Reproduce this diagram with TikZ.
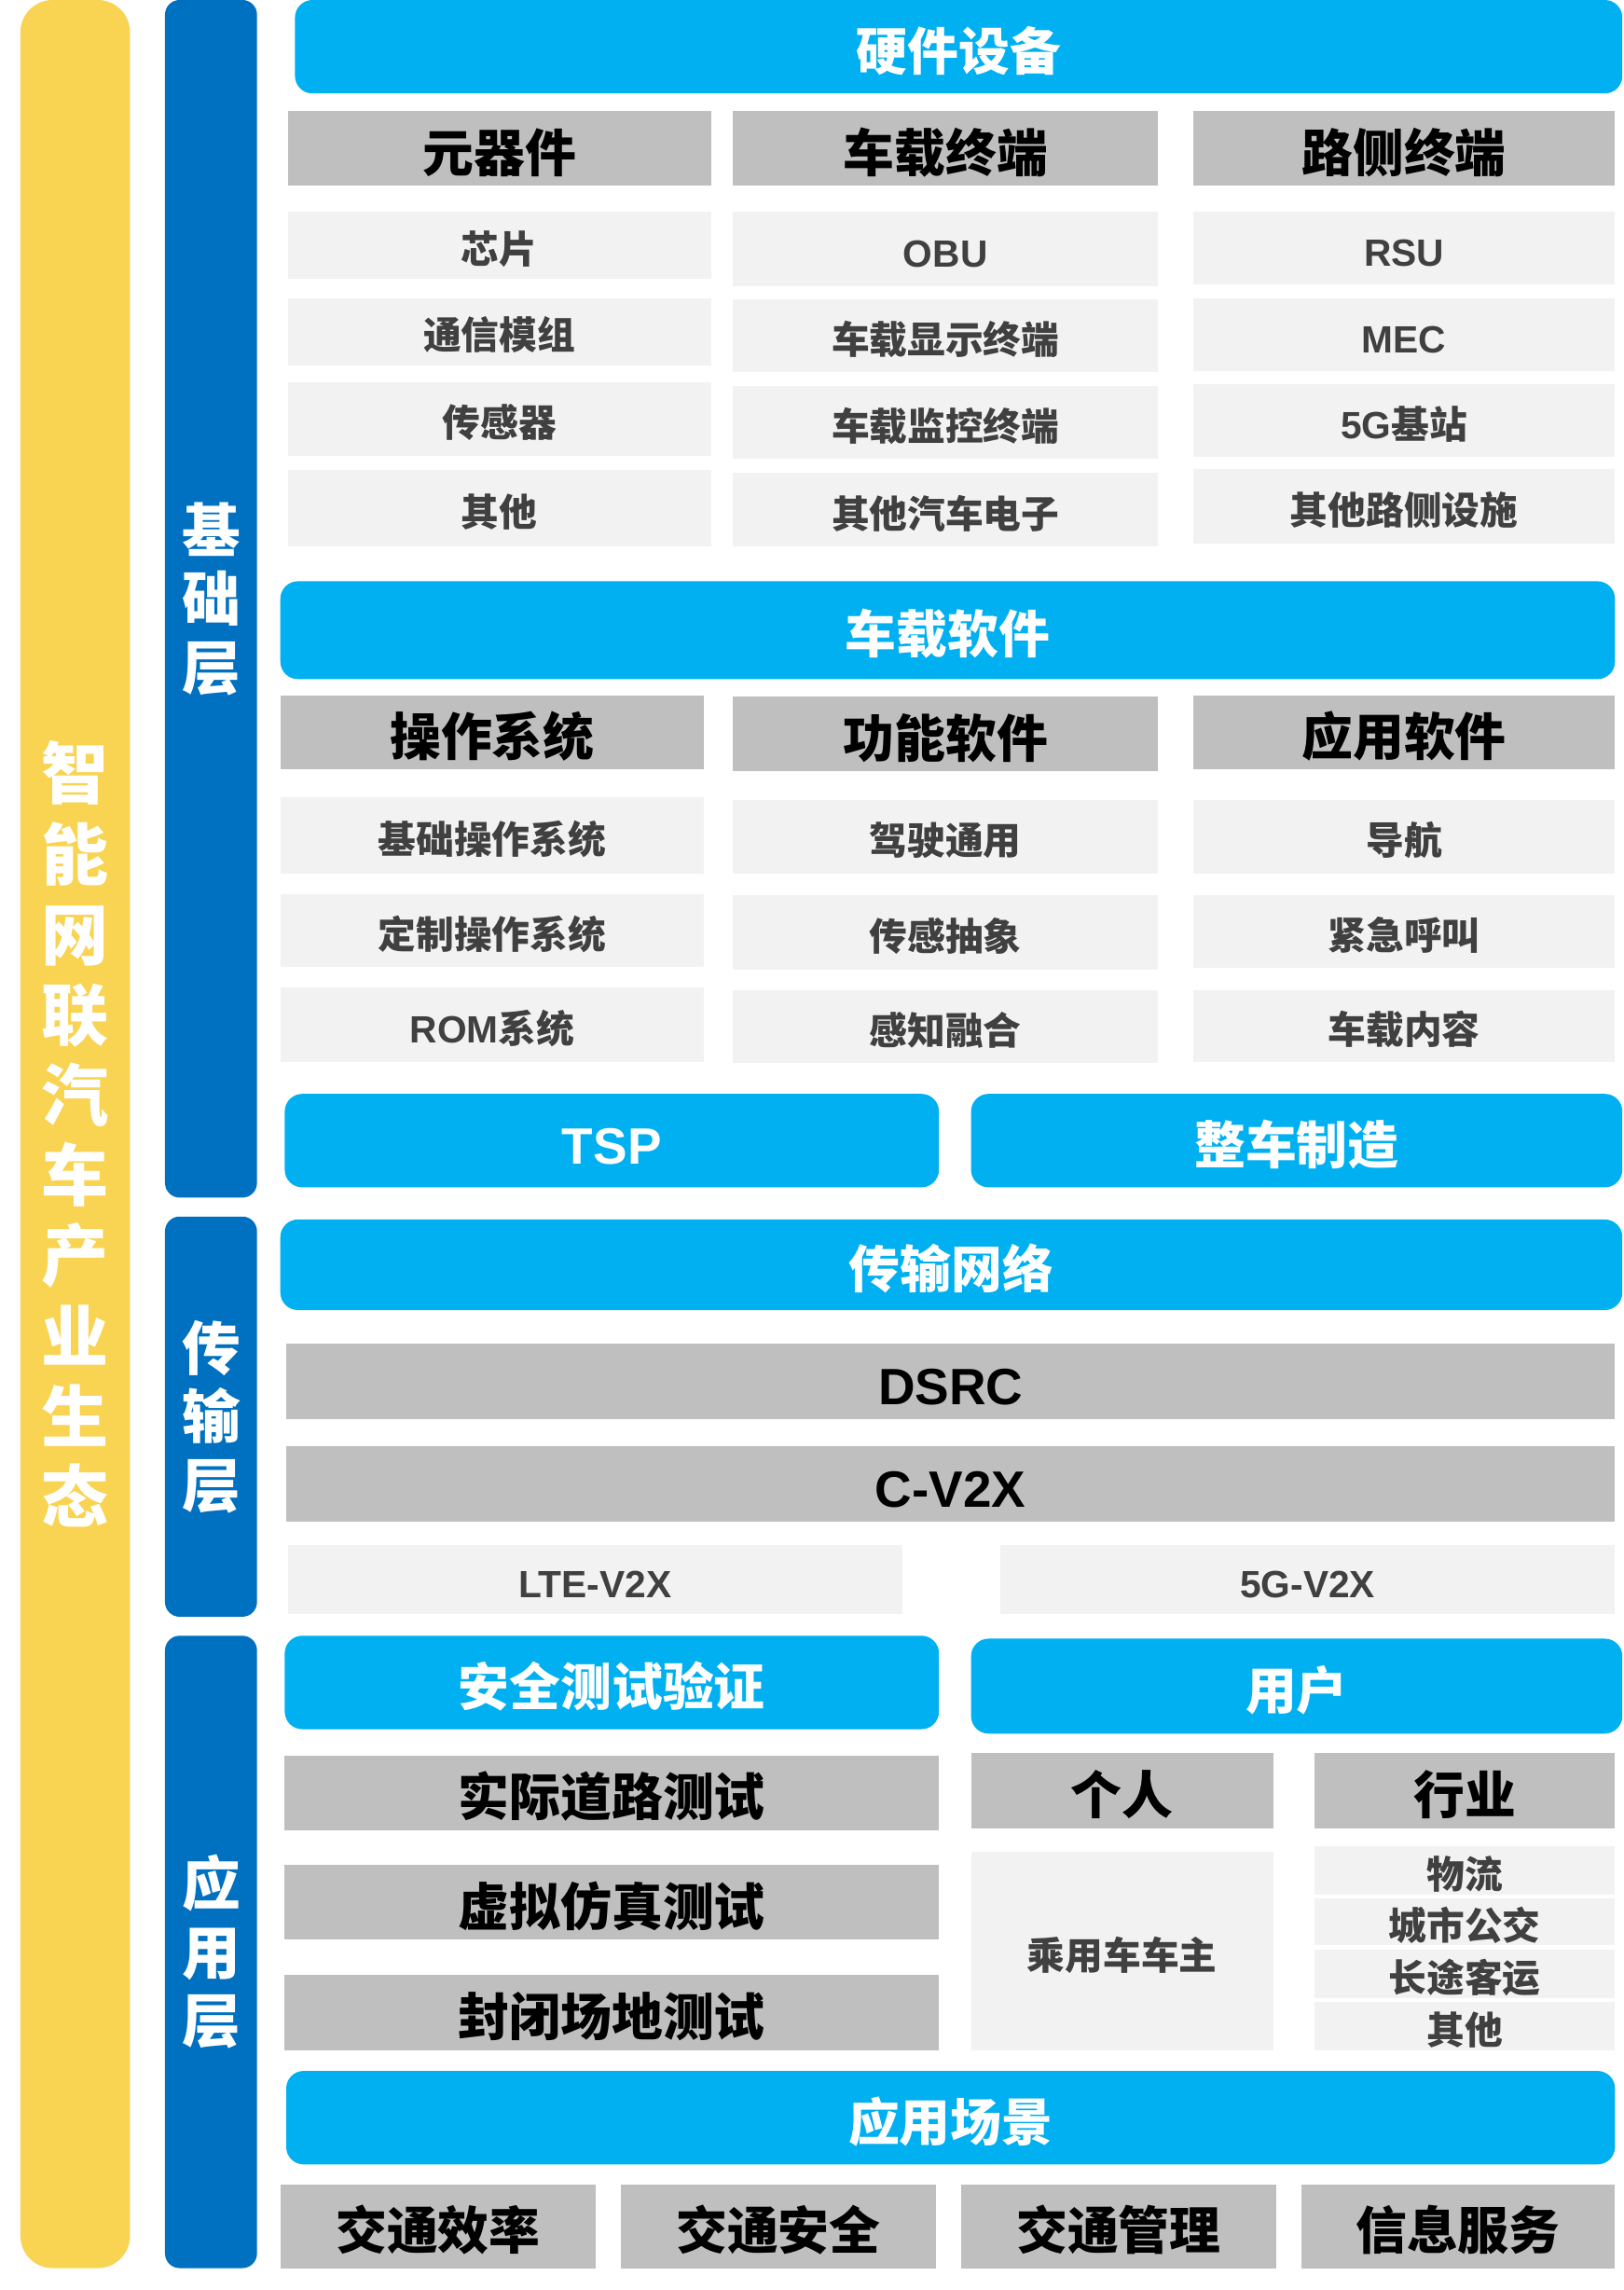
\documentclass[tikz,border=0pt]{standalone}
\usepackage{fontspec}
\setmainfont{Noto Sans CJK SC}
\newfontfamily\latf{Liberation Sans}
\definecolor{cblue}{HTML}{00B0F0}
\definecolor{cdark}{HTML}{0070C0}
\definecolor{cyellow}{HTML}{F9D352}
\definecolor{cgray}{HTML}{BFBFBF}
\definecolor{clight}{HTML}{F2F2F2}
\definecolor{ctext}{HTML}{404040}
\newcommand\bx[7]{\node[#6, minimum width={(#4-#2)*1pt}, minimum height={(#5-#3)*1pt}] (#1) at ({(#2+#4)/2},{(#3+#5)/2}) {#7};}
\newcommand\la[1]{{\latf\bfseries #1}}
\tikzset{
  base/.style={rectangle, inner sep=0pt, outer sep=0pt, draw=none},
  big/.style={text height=32pt, text depth=0pt},
  small/.style={text height=24.8pt, text depth=0pt},
  hdr/.style={base, big, fill=cblue, rounded corners=12pt, text=white, font=\fontsize{35}{40}\selectfont\bfseries},
  cat/.style={base, big, fill=cgray, text=black, font=\fontsize{35}{40}\selectfont\bfseries},
  item/.style={base, small, fill=clight, text=ctext, font=\fontsize{26}{30}\selectfont\bfseries},
  layer/.style={base, fill=cdark, rounded corners=10pt, text=white, align=center, font=\fontsize{40}{47}\selectfont\bfseries},
  eco/.style={base, fill=cyellow, rounded corners=22pt, text=white, align=center, font=\fontsize{46}{55}\selectfont\bfseries}
}
\begin{document}
\begin{tikzpicture}[x=1pt,y=-1pt]
\useasboundingbox (0,0) rectangle (1112,1568);
\fill[white] (0,0) rectangle (1112,1568);
% left bars
\bx{eco}{14}{0}{89}{1553}{eco}{智\\能\\网\\联\\汽\\车\\产\\业\\生\\态}
\bx{l1}{113}{0}{176}{820}{layer}{基\\础\\层}
\bx{l2}{113}{833}{176}{1107}{layer}{传\\输\\层}
\bx{l3}{113}{1120}{176}{1553}{layer}{应\\用\\层}
% hardware
\bx{hw}{202}{0}{1111}{64}{hdr}{硬件设备}
\bx{c11}{197}{76}{487}{127}{cat}{元器件}
\bx{c12}{502}{76}{793}{127}{cat}{车载终端}
\bx{c13}{817}{76}{1106}{127}{cat}{路侧终端}
\bx{i111}{197}{145}{487}{191}{item}{芯片}
\bx{i112}{197}{204}{487}{250}{item}{通信模组}
\bx{i113}{197}{262}{487}{312}{item}{传感器}
\bx{i114}{197}{322}{487}{374}{item}{其他}
\bx{i121}{502}{145}{793}{196}{item}{\la{OBU}}
\bx{i122}{502}{205}{793}{255}{item}{车载显示终端}
\bx{i123}{502}{264}{793}{314}{item}{车载监控终端}
\bx{i124}{502}{324}{793}{374}{item}{其他汽车电子}
\bx{i131}{817}{145}{1106}{195}{item}{\la{RSU}}
\bx{i132}{817}{204}{1106}{254}{item}{\la{MEC}}
\bx{i133}{817}{263}{1106}{313}{item}{\la{5G}基站}
\bx{i134}{817}{321}{1106}{372}{item}{其他路侧设施}
% software
\bx{sw}{192}{398}{1106}{465}{hdr}{车载软件}
\bx{c21}{192}{476}{482}{527}{cat}{操作系统}
\bx{c22}{502}{477}{793}{528}{cat}{功能软件}
\bx{c23}{817}{476}{1106}{527}{cat}{应用软件}
\bx{i211}{192}{546}{482}{598}{item}{基础操作系统}
\bx{i212}{192}{612}{482}{662}{item}{定制操作系统}
\bx{i213}{192}{676}{482}{727}{item}{\la{ROM}系统}
\bx{i221}{502}{548}{793}{598}{item}{驾驶通用}
\bx{i222}{502}{613}{793}{664}{item}{传感抽象}
\bx{i223}{502}{678}{793}{728}{item}{感知融合}
\bx{i231}{817}{548}{1106}{598}{item}{导航}
\bx{i232}{817}{613}{1106}{663}{item}{紧急呼叫}
\bx{i233}{817}{678}{1106}{727}{item}{车载内容}
\bx{tsp}{195}{749}{643}{813}{hdr}{\la{TSP}}
\bx{mfg}{665}{749}{1111}{813}{hdr}{整车制造}
% transmission
\bx{net}{192}{835}{1111}{897}{hdr}{传输网络}
\bx{dsrc}{196}{920}{1106}{972}{cat}{\la{DSRC}}
\bx{cv2x}{196}{990}{1106}{1042}{cat}{\la{C-V2X}}
\bx{lte}{197}{1058}{618}{1105}{item}{\la{LTE-V2X}}
\bx{fiveg}{685}{1058}{1106}{1105}{item}{\la{5G-V2X}}
% application
\bx{test}{195}{1120}{643}{1184}{hdr}{安全测试验证}
\bx{user}{665}{1122}{1111}{1187}{hdr}{用户}
\bx{t1}{195}{1202}{643}{1253}{cat}{实际道路测试}
\bx{t2}{195}{1277}{643}{1328}{cat}{虚拟仿真测试}
\bx{t3}{195}{1352}{643}{1404}{cat}{封闭场地测试}
\bx{u1}{665}{1200}{872}{1252}{cat}{个人}
\bx{u2}{900}{1200}{1106}{1252}{cat}{行业}
\bx{u11}{665}{1268}{872}{1404}{item}{乘用车车主}
\bx{u21}{900}{1264}{1106}{1297}{item}{物流}
\bx{u22}{900}{1300}{1106}{1332}{item}{城市公交}
\bx{u23}{900}{1335}{1106}{1368}{item}{长途客运}
\bx{u24}{900}{1371}{1106}{1404}{item}{其他}
\bx{scene}{196}{1418}{1106}{1482}{hdr}{应用场景}
\bx{s1}{192}{1496}{408}{1553}{cat}{交通效率}
\bx{s2}{425}{1496}{641}{1553}{cat}{交通安全}
\bx{s3}{658}{1496}{874}{1553}{cat}{交通管理}
\bx{s4}{891}{1496}{1106}{1553}{cat}{信息服务}
\end{tikzpicture}
\end{document}
